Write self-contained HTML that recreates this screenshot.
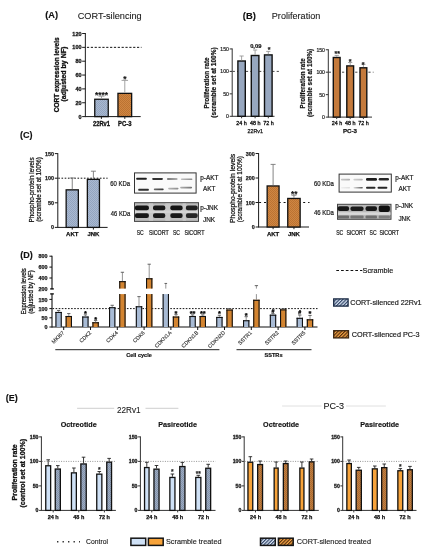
<!DOCTYPE html><html><head><meta charset="utf-8"><title>Figure</title><style>html,body{margin:0;padding:0;background:#fff;}svg{display:block;}</style></head><body>
<svg width="426" height="550" viewBox="0 0 426 550" font-family='"Liberation Sans", Arial, Helvetica, sans-serif'>
<defs><pattern id="hb" width="2" height="2" patternUnits="userSpaceOnUse"><rect width="2" height="2" fill="#a9b9d1"/><rect width="1" height="1" fill="#93a4bf"/><rect x="1" y="1" width="1" height="1" fill="#93a4bf"/></pattern><pattern id="ho" width="2" height="2" patternUnits="userSpaceOnUse"><rect width="2" height="2" fill="#d08642"/><rect width="1" height="1" fill="#bb7333"/><rect x="1" y="1" width="1" height="1" fill="#bb7333"/></pattern><pattern id="heb" width="2" height="2" patternUnits="userSpaceOnUse"><rect width="2" height="2" fill="#9dabc1"/><rect width="1" height="1" fill="#8393ab"/><rect x="1" y="1" width="1" height="1" fill="#8393ab"/></pattern><pattern id="heo" width="2" height="2" patternUnits="userSpaceOnUse"><rect width="2" height="2" fill="#c07e40"/><rect width="1" height="1" fill="#aa6b32"/><rect x="1" y="1" width="1" height="1" fill="#aa6b32"/></pattern><pattern id="lgb" width="2.4" height="2.4" patternUnits="userSpaceOnUse" patternTransform="rotate(45)"><rect width="2.4" height="2.4" fill="#dce8f6"/><rect width="1.2" height="2.4" fill="#34476a"/></pattern><pattern id="lgo" width="2.4" height="2.4" patternUnits="userSpaceOnUse" patternTransform="rotate(45)"><rect width="2.4" height="2.4" fill="#f8a848"/><rect width="1.2" height="2.4" fill="#5a300c"/></pattern></defs>
<text x="45.2" y="18.2" font-size="9.2" font-weight="bold" text-anchor="start" fill="#111" stroke="#111" stroke-width="0.15">(A)</text>
<text x="77.7" y="18.7" font-size="9.7" text-anchor="start" fill="#1a1a1a" textLength="64" lengthAdjust="spacingAndGlyphs" stroke="#1a1a1a" stroke-width="0.1">CORT-silencing</text>
<line x1="85.35" y1="33" x2="85.35" y2="117.1" stroke="#1a1a1a" stroke-width="1"/>
<line x1="82.15" y1="33.5" x2="85.35" y2="33.5" stroke="#1a1a1a" stroke-width="1"/>
<text x="81.55" y="35.59" font-size="5.5" font-weight="bold" text-anchor="end" fill="#1a1a1a" stroke="#1a1a1a" stroke-width="0.3">120</text>
<line x1="82.15" y1="47.35" x2="85.35" y2="47.35" stroke="#1a1a1a" stroke-width="1"/>
<text x="81.55" y="49.44" font-size="5.5" font-weight="bold" text-anchor="end" fill="#1a1a1a" stroke="#1a1a1a" stroke-width="0.3">100</text>
<line x1="82.15" y1="61.2" x2="85.35" y2="61.2" stroke="#1a1a1a" stroke-width="1"/>
<text x="81.55" y="63.29" font-size="5.5" font-weight="bold" text-anchor="end" fill="#1a1a1a" stroke="#1a1a1a" stroke-width="0.3">80</text>
<line x1="82.15" y1="75.05" x2="85.35" y2="75.05" stroke="#1a1a1a" stroke-width="1"/>
<text x="81.55" y="77.14" font-size="5.5" font-weight="bold" text-anchor="end" fill="#1a1a1a" stroke="#1a1a1a" stroke-width="0.3">60</text>
<line x1="82.15" y1="88.9" x2="85.35" y2="88.9" stroke="#1a1a1a" stroke-width="1"/>
<text x="81.55" y="90.99" font-size="5.5" font-weight="bold" text-anchor="end" fill="#1a1a1a" stroke="#1a1a1a" stroke-width="0.3">40</text>
<line x1="82.15" y1="102.75" x2="85.35" y2="102.75" stroke="#1a1a1a" stroke-width="1"/>
<text x="81.55" y="104.84" font-size="5.5" font-weight="bold" text-anchor="end" fill="#1a1a1a" stroke="#1a1a1a" stroke-width="0.3">20</text>
<line x1="82.15" y1="116.6" x2="85.35" y2="116.6" stroke="#1a1a1a" stroke-width="1"/>
<text x="81.55" y="118.69" font-size="5.5" font-weight="bold" text-anchor="end" fill="#1a1a1a" stroke="#1a1a1a" stroke-width="0.3">0</text>
<line x1="85.35" y1="116.6" x2="140.7" y2="116.6" stroke="#1a1a1a" stroke-width="1"/>
<line x1="86.95" y1="47.35" x2="141.5" y2="47.35" stroke="#111" stroke-width="1" stroke-dasharray="2.2 1.65"/>
<text x="59.2" y="74.8" font-size="6.6" font-weight="bold" text-anchor="middle" fill="#111" transform="rotate(-90 59.2 74.8)" textLength="75" lengthAdjust="spacingAndGlyphs" stroke="#111" stroke-width="0.3">CORT expression levels</text>
<text x="66.2" y="74.1" font-size="6.6" font-weight="bold" text-anchor="middle" fill="#111" transform="rotate(-90 66.2 74.1)" textLength="55" lengthAdjust="spacingAndGlyphs" stroke="#111" stroke-width="0.3">(adjusted by NF)</text>
<rect x="94.75" y="99.25" width="13.5" height="17.35" fill="url(#hb)" stroke="#111" stroke-width="1.3"/>
<rect x="117.95" y="93.35" width="13.7" height="23.25" fill="url(#ho)" stroke="#111" stroke-width="1.3"/>
<line x1="101.5" y1="98.6" x2="101.5" y2="96.2" stroke="#999" stroke-width="0.9"/>
<line x1="98.5" y1="96.2" x2="104.5" y2="96.2" stroke="#999" stroke-width="0.9"/>
<line x1="124.8" y1="92.7" x2="124.8" y2="80.4" stroke="#999" stroke-width="0.9"/>
<line x1="121.55" y1="80.4" x2="128.05" y2="80.4" stroke="#999" stroke-width="0.9"/>
<line x1="101.4" y1="116.6" x2="101.4" y2="118.9" stroke="#1a1a1a" stroke-width="1"/>
<line x1="124.8" y1="116.6" x2="124.8" y2="118.9" stroke="#1a1a1a" stroke-width="1"/>
<text x="101.5" y="97.68" font-size="8.4" font-weight="bold" text-anchor="middle" fill="#111" stroke="#111" stroke-width="0.15">****</text>
<text x="124.8" y="81.68" font-size="8.4" font-weight="bold" text-anchor="middle" fill="#111" stroke="#111" stroke-width="0.15">*</text>
<text x="101.5" y="126.2" font-size="6.3" font-weight="bold" text-anchor="middle" fill="#111" textLength="17" lengthAdjust="spacingAndGlyphs" stroke="#111" stroke-width="0.3">22Rv1</text>
<text x="124.8" y="126.2" font-size="6.3" font-weight="bold" text-anchor="middle" fill="#111" textLength="13.4" lengthAdjust="spacingAndGlyphs" stroke="#111" stroke-width="0.3">PC-3</text>
<text x="242.8" y="18.5" font-size="9.4" font-weight="bold" text-anchor="start" fill="#111" stroke="#111" stroke-width="0.15">(B)</text>
<text x="271.8" y="18.8" font-size="9.7" text-anchor="start" fill="#1a1a1a" textLength="48.5" lengthAdjust="spacingAndGlyphs" stroke="#1a1a1a" stroke-width="0.1">Proliferation</text>
<line x1="232.2" y1="48.45" x2="232.2" y2="116.8" stroke="#333" stroke-width="1"/>
<line x1="229.7" y1="48.95" x2="232.2" y2="48.95" stroke="#333" stroke-width="1"/>
<text x="228.8" y="50.89" font-size="5.1" text-anchor="end" fill="#222" stroke="#222" stroke-width="0.2">150</text>
<line x1="229.7" y1="71.4" x2="232.2" y2="71.4" stroke="#333" stroke-width="1"/>
<text x="228.8" y="73.34" font-size="5.1" text-anchor="end" fill="#222" stroke="#222" stroke-width="0.2">100</text>
<line x1="229.7" y1="93.85" x2="232.2" y2="93.85" stroke="#333" stroke-width="1"/>
<text x="228.8" y="95.79" font-size="5.1" text-anchor="end" fill="#222" stroke="#222" stroke-width="0.2">50</text>
<line x1="229.7" y1="116.3" x2="232.2" y2="116.3" stroke="#333" stroke-width="1"/>
<text x="228.8" y="118.24" font-size="5.1" text-anchor="end" fill="#222" stroke="#222" stroke-width="0.2">0</text>
<line x1="232.7" y1="71.4" x2="279" y2="71.4" stroke="#333" stroke-width="0.9" stroke-dasharray="2.2 2.2"/>
<line x1="232.2" y1="116.3" x2="274.5" y2="116.3" stroke="#333" stroke-width="1"/>
<rect x="237.9" y="61" width="7.4" height="55.3" fill="#97a7bf" stroke="#111" stroke-width="1.4"/>
<line x1="241.6" y1="60.3" x2="241.6" y2="56" stroke="#999" stroke-width="0.9"/>
<line x1="239.5" y1="56" x2="243.7" y2="56" stroke="#999" stroke-width="0.9"/>
<line x1="241.6" y1="116.3" x2="241.6" y2="118.3" stroke="#333" stroke-width="1"/>
<rect x="251.3" y="55.5" width="7.6" height="60.8" fill="#97a7bf" stroke="#111" stroke-width="1.4"/>
<line x1="255.1" y1="54.8" x2="255.1" y2="50" stroke="#999" stroke-width="0.9"/>
<line x1="253" y1="50" x2="257.2" y2="50" stroke="#999" stroke-width="0.9"/>
<line x1="255.1" y1="116.3" x2="255.1" y2="118.3" stroke="#333" stroke-width="1"/>
<rect x="264.5" y="54.9" width="7.6" height="61.4" fill="#97a7bf" stroke="#111" stroke-width="1.4"/>
<line x1="268.3" y1="54.2" x2="268.3" y2="51.4" stroke="#999" stroke-width="0.9"/>
<line x1="266.2" y1="51.4" x2="270.4" y2="51.4" stroke="#999" stroke-width="0.9"/>
<line x1="268.3" y1="116.3" x2="268.3" y2="118.3" stroke="#333" stroke-width="1"/>
<text x="255.8" y="47.9" font-size="5.8" font-weight="bold" text-anchor="middle" fill="#111" stroke="#111" stroke-width="0.2">0,09</text>
<text x="269" y="52.17" font-size="7" font-weight="bold" text-anchor="middle" fill="#111" stroke="#111" stroke-width="0.15">*</text>
<text x="241.4" y="124.6" font-size="5.4" text-anchor="middle" fill="#111" stroke="#111" stroke-width="0.3">24 h</text>
<text x="255.2" y="124.6" font-size="5.4" text-anchor="middle" fill="#111" stroke="#111" stroke-width="0.3">48 h</text>
<text x="268.4" y="124.6" font-size="5.4" text-anchor="middle" fill="#111" stroke="#111" stroke-width="0.3">72 h</text>
<text x="255.2" y="133.4" font-size="6.1" text-anchor="middle" fill="#111" textLength="15.4" lengthAdjust="spacingAndGlyphs" stroke="#111" stroke-width="0.25">22Rv1</text>
<text x="208.6" y="82.9" font-size="6.6" font-weight="bold" text-anchor="middle" fill="#111" transform="rotate(-90 208.6 82.9)" textLength="51" lengthAdjust="spacingAndGlyphs" stroke="#111" stroke-width="0.2">Proliferation rate</text>
<text x="215.6" y="82.5" font-size="6.6" font-weight="bold" text-anchor="middle" fill="#111" transform="rotate(-90 215.6 82.5)" textLength="70.3" lengthAdjust="spacingAndGlyphs" stroke="#111" stroke-width="0.2">(scramble set at 100%)</text>
<line x1="328.3" y1="49.25" x2="328.3" y2="117.6" stroke="#333" stroke-width="1"/>
<line x1="325.8" y1="49.75" x2="328.3" y2="49.75" stroke="#333" stroke-width="1"/>
<text x="324.9" y="51.69" font-size="5.1" text-anchor="end" fill="#222" stroke="#222" stroke-width="0.2">150</text>
<line x1="325.8" y1="72.2" x2="328.3" y2="72.2" stroke="#333" stroke-width="1"/>
<text x="324.9" y="74.14" font-size="5.1" text-anchor="end" fill="#222" stroke="#222" stroke-width="0.2">100</text>
<line x1="325.8" y1="94.65" x2="328.3" y2="94.65" stroke="#333" stroke-width="1"/>
<text x="324.9" y="96.59" font-size="5.1" text-anchor="end" fill="#222" stroke="#222" stroke-width="0.2">50</text>
<line x1="325.8" y1="117.1" x2="328.3" y2="117.1" stroke="#333" stroke-width="1"/>
<text x="324.9" y="119.04" font-size="5.1" text-anchor="end" fill="#222" stroke="#222" stroke-width="0.2">0</text>
<line x1="328.8" y1="72.2" x2="373.5" y2="72.2" stroke="#333" stroke-width="0.9" stroke-dasharray="2.2 2.2"/>
<line x1="328.3" y1="117.1" x2="372" y2="117.1" stroke="#333" stroke-width="1"/>
<rect x="333.3" y="57.5" width="6.8" height="59.6" fill="#c47a3c" stroke="#111" stroke-width="1.4"/>
<line x1="336.7" y1="56.8" x2="336.7" y2="55.4" stroke="#999" stroke-width="0.9"/>
<line x1="334.6" y1="55.4" x2="338.8" y2="55.4" stroke="#999" stroke-width="0.9"/>
<line x1="336.7" y1="117.1" x2="336.7" y2="119.1" stroke="#333" stroke-width="1"/>
<rect x="346.8" y="65.9" width="6.8" height="51.2" fill="#c47a3c" stroke="#111" stroke-width="1.4"/>
<line x1="350.2" y1="65.2" x2="350.2" y2="62.5" stroke="#999" stroke-width="0.9"/>
<line x1="348.1" y1="62.5" x2="352.3" y2="62.5" stroke="#999" stroke-width="0.9"/>
<line x1="350.2" y1="117.1" x2="350.2" y2="119.1" stroke="#333" stroke-width="1"/>
<rect x="360" y="67.8" width="6.8" height="49.3" fill="#c47a3c" stroke="#111" stroke-width="1.4"/>
<line x1="363.4" y1="67.1" x2="363.4" y2="64.3" stroke="#999" stroke-width="0.9"/>
<line x1="361.3" y1="64.3" x2="365.5" y2="64.3" stroke="#999" stroke-width="0.9"/>
<line x1="363.4" y1="117.1" x2="363.4" y2="119.1" stroke="#333" stroke-width="1"/>
<text x="337.3" y="56.17" font-size="7" font-weight="bold" text-anchor="middle" fill="#111" stroke="#111" stroke-width="0.15">**</text>
<text x="350.2" y="64.17" font-size="7" font-weight="bold" text-anchor="middle" fill="#111" stroke="#111" stroke-width="0.15">*</text>
<text x="363.1" y="66.77" font-size="7" font-weight="bold" text-anchor="middle" fill="#111" stroke="#111" stroke-width="0.15">*</text>
<text x="337" y="124.6" font-size="5.4" text-anchor="middle" fill="#111" stroke="#111" stroke-width="0.3">24 h</text>
<text x="350.3" y="124.6" font-size="5.4" text-anchor="middle" fill="#111" stroke="#111" stroke-width="0.3">48 h</text>
<text x="363.4" y="124.6" font-size="5.4" text-anchor="middle" fill="#111" stroke="#111" stroke-width="0.3">72 h</text>
<text x="349.9" y="133" font-size="6.1" font-weight="bold" text-anchor="middle" fill="#111" stroke="#111" stroke-width="0.25">PC-3</text>
<text x="304.8" y="83.3" font-size="6.6" font-weight="bold" text-anchor="middle" fill="#111" transform="rotate(-90 304.8 83.3)" textLength="50.3" lengthAdjust="spacingAndGlyphs" stroke="#111" stroke-width="0.2">Proliferation rate</text>
<text x="311.8" y="82.9" font-size="6.6" font-weight="bold" text-anchor="middle" fill="#111" transform="rotate(-90 311.8 82.9)" textLength="68.2" lengthAdjust="spacingAndGlyphs" stroke="#111" stroke-width="0.2">(scramble set at 100%)</text>
<text x="19.9" y="137.9" font-size="9" font-weight="bold" text-anchor="start" fill="#111" stroke="#111" stroke-width="0.15">(C)</text>
<line x1="57.8" y1="153.1" x2="57.8" y2="227.9" stroke="#1a1a1a" stroke-width="1"/>
<line x1="54.8" y1="153.6" x2="57.8" y2="153.6" stroke="#1a1a1a" stroke-width="1"/>
<text x="53.9" y="155.65" font-size="5.4" font-weight="bold" text-anchor="end" fill="#222" stroke="#222" stroke-width="0.25">150</text>
<line x1="54.8" y1="178.2" x2="57.8" y2="178.2" stroke="#1a1a1a" stroke-width="1"/>
<text x="53.9" y="180.25" font-size="5.4" font-weight="bold" text-anchor="end" fill="#222" stroke="#222" stroke-width="0.25">100</text>
<line x1="54.8" y1="202.8" x2="57.8" y2="202.8" stroke="#1a1a1a" stroke-width="1"/>
<text x="53.9" y="204.85" font-size="5.4" font-weight="bold" text-anchor="end" fill="#222" stroke="#222" stroke-width="0.25">50</text>
<line x1="54.8" y1="227.4" x2="57.8" y2="227.4" stroke="#1a1a1a" stroke-width="1"/>
<text x="53.9" y="229.45" font-size="5.4" font-weight="bold" text-anchor="end" fill="#222" stroke="#222" stroke-width="0.25">0</text>
<line x1="58.3" y1="178.2" x2="107.6" y2="178.2" stroke="#111" stroke-width="1" stroke-dasharray="1.6 1.6"/>
<line x1="57.8" y1="227.4" x2="107.6" y2="227.4" stroke="#1a1a1a" stroke-width="1"/>
<rect x="66.15" y="189.85" width="12.2" height="37.55" fill="url(#hb)" stroke="#111" stroke-width="1.3"/>
<line x1="72.25" y1="189.2" x2="72.25" y2="178" stroke="#777" stroke-width="0.9"/>
<line x1="69.75" y1="178" x2="74.75" y2="178" stroke="#777" stroke-width="0.9"/>
<line x1="72.25" y1="227.4" x2="72.25" y2="229.6" stroke="#1a1a1a" stroke-width="1"/>
<rect x="87.35" y="179.35" width="12.1" height="48.05" fill="url(#hb)" stroke="#111" stroke-width="1.3"/>
<line x1="93.4" y1="178.7" x2="93.4" y2="171.2" stroke="#777" stroke-width="0.9"/>
<line x1="90.9" y1="171.2" x2="95.9" y2="171.2" stroke="#777" stroke-width="0.9"/>
<line x1="93.4" y1="227.4" x2="93.4" y2="229.6" stroke="#1a1a1a" stroke-width="1"/>
<text x="72.25" y="236.4" font-size="6" font-weight="bold" text-anchor="middle" fill="#111" stroke="#111" stroke-width="0.25">AKT</text>
<text x="93.4" y="236.4" font-size="6" font-weight="bold" text-anchor="middle" fill="#111" stroke="#111" stroke-width="0.25">JNK</text>
<text x="34.2" y="189.9" font-size="6.3" text-anchor="middle" fill="#111" transform="rotate(-90 34.2 189.9)" textLength="65.3" lengthAdjust="spacingAndGlyphs" stroke="#111" stroke-width="0.22">Phospho-protein levels</text>
<text x="41.3" y="189.5" font-size="6.3" text-anchor="middle" fill="#111" transform="rotate(-90 41.3 189.5)" textLength="64.5" lengthAdjust="spacingAndGlyphs" stroke="#111" stroke-width="0.22">(scramble set at 100%)</text>
<line x1="258.6" y1="153" x2="258.6" y2="227.5" stroke="#1a1a1a" stroke-width="1"/>
<line x1="255.6" y1="153.5" x2="258.6" y2="153.5" stroke="#1a1a1a" stroke-width="1"/>
<text x="254.7" y="155.55" font-size="5.4" font-weight="bold" text-anchor="end" fill="#222" stroke="#222" stroke-width="0.25">300</text>
<line x1="255.6" y1="178" x2="258.6" y2="178" stroke="#1a1a1a" stroke-width="1"/>
<text x="254.7" y="180.05" font-size="5.4" font-weight="bold" text-anchor="end" fill="#222" stroke="#222" stroke-width="0.25">200</text>
<line x1="255.6" y1="202.5" x2="258.6" y2="202.5" stroke="#1a1a1a" stroke-width="1"/>
<text x="254.7" y="204.55" font-size="5.4" font-weight="bold" text-anchor="end" fill="#222" stroke="#222" stroke-width="0.25">100</text>
<line x1="255.6" y1="227" x2="258.6" y2="227" stroke="#1a1a1a" stroke-width="1"/>
<text x="254.7" y="229.05" font-size="5.4" font-weight="bold" text-anchor="end" fill="#222" stroke="#222" stroke-width="0.25">0</text>
<line x1="259.1" y1="202.5" x2="309.5" y2="202.5" stroke="#111" stroke-width="1" stroke-dasharray="2 2.9"/>
<line x1="258.6" y1="227" x2="309" y2="227" stroke="#1a1a1a" stroke-width="1"/>
<rect x="267.15" y="185.95" width="11.9" height="41.05" fill="url(#ho)" stroke="#111" stroke-width="1.3"/>
<line x1="273.1" y1="185.3" x2="273.1" y2="164.4" stroke="#777" stroke-width="0.9"/>
<line x1="270.6" y1="164.4" x2="275.6" y2="164.4" stroke="#777" stroke-width="0.9"/>
<line x1="273.1" y1="227" x2="273.1" y2="229.2" stroke="#1a1a1a" stroke-width="1"/>
<rect x="287.75" y="198.45" width="12.4" height="28.55" fill="url(#ho)" stroke="#111" stroke-width="1.3"/>
<line x1="293.95" y1="197.8" x2="293.95" y2="195.2" stroke="#777" stroke-width="0.9"/>
<line x1="291.45" y1="195.2" x2="296.45" y2="195.2" stroke="#777" stroke-width="0.9"/>
<line x1="293.95" y1="227" x2="293.95" y2="229.2" stroke="#1a1a1a" stroke-width="1"/>
<text x="294.2" y="196.68" font-size="8.2" font-weight="bold" text-anchor="middle" fill="#111" stroke="#111" stroke-width="0.15">**</text>
<text x="273.1" y="236.4" font-size="6" font-weight="bold" text-anchor="middle" fill="#111" stroke="#111" stroke-width="0.25">AKT</text>
<text x="293.95" y="236.4" font-size="6" font-weight="bold" text-anchor="middle" fill="#111" stroke="#111" stroke-width="0.25">JNK</text>
<text x="234.8" y="188.4" font-size="6.3" text-anchor="middle" fill="#111" transform="rotate(-90 234.8 188.4)" textLength="69.2" lengthAdjust="spacingAndGlyphs" stroke="#111" stroke-width="0.22">Phospho-protein levels</text>
<text x="241.9" y="189.1" font-size="6.3" text-anchor="middle" fill="#111" transform="rotate(-90 241.9 189.1)" textLength="66.1" lengthAdjust="spacingAndGlyphs" stroke="#111" stroke-width="0.22">(scramble set at 100%)</text>
<rect x="134.5" y="172.9" width="61.6" height="20.2" fill="#fafafa" stroke="#333" stroke-width="1"/>
<rect x="136.2" y="177.7" width="10.6" height="2" rx="0.8" fill="#1e1e1e" opacity="1"/>
<rect x="152.2" y="177.9" width="10.7" height="2" rx="0.8" fill="#333333" opacity="1"/>
<linearGradient id="g1" x1="0" x2="1" y1="0" y2="0"><stop offset="0" stop-color="#777777"/><stop offset="1" stop-color="#b0b0b0"/></linearGradient>
<rect x="167" y="178.1" width="10.6" height="1.8" rx="0.9" fill="url(#g1)" opacity="1"/>
<linearGradient id="g2" x1="0" x2="1" y1="0" y2="0"><stop offset="0" stop-color="#c0c0c0"/><stop offset="1" stop-color="#8a8a8a"/></linearGradient>
<rect x="180.9" y="178.4" width="11.5" height="1.6" rx="0.8" fill="url(#g2)" opacity="1"/>
<rect x="138.2" y="188.85" width="10.7" height="1.9" rx="0.8" fill="#2e2e2e" opacity="1"/>
<linearGradient id="g3" x1="0" x2="1" y1="0" y2="0"><stop offset="0" stop-color="#6a6a6a"/><stop offset="1" stop-color="#3a3a3a"/></linearGradient>
<rect x="153.8" y="188.4" width="9.9" height="1.8" rx="0.9" fill="url(#g3)" opacity="1"/>
<linearGradient id="g4" x1="0" x2="1" y1="0" y2="0"><stop offset="0" stop-color="#b8b8b8"/><stop offset="1" stop-color="#8a8a8a"/></linearGradient>
<rect x="168.1" y="187.8" width="10.4" height="1.6" rx="0.8" fill="url(#g4)" opacity="1"/>
<linearGradient id="g5" x1="0" x2="1" y1="0" y2="0"><stop offset="0" stop-color="#b0b0b0"/><stop offset="1" stop-color="#707070"/></linearGradient>
<rect x="180.1" y="186.8" width="12" height="1.6" rx="0.8" fill="url(#g5)" opacity="1"/>
<rect x="134.5" y="202.7" width="64" height="18.7" fill="#bdbdbd" stroke="#444" stroke-width="1"/>
<rect x="135" y="210.6" width="63" height="2.4" fill="#d6d6d6"/>
<rect x="148.9" y="203.2" width="4.1" height="17.7" fill="#cfcfcf" opacity="0.6"/>
<rect x="165.3" y="203.2" width="5" height="17.7" fill="#cfcfcf" opacity="0.6"/>
<rect x="182.6" y="203.2" width="3.3" height="17.7" fill="#cfcfcf" opacity="0.6"/>
<rect x="134.9" y="205.6" width="14" height="4.6" rx="2" fill="#151515" opacity="1"/>
<rect x="153" y="205.6" width="12.3" height="4.6" rx="2" fill="#1a1a1a" opacity="1"/>
<rect x="170.3" y="205.6" width="12.3" height="4.6" rx="2" fill="#151515" opacity="1"/>
<rect x="185.9" y="205.6" width="11.8" height="4.6" rx="2" fill="#222" opacity="1"/>
<rect x="134.9" y="213.3" width="14" height="4.6" rx="2" fill="#171717" opacity="1"/>
<rect x="153" y="213.3" width="12.3" height="4.6" rx="2" fill="#1a1a1a" opacity="1"/>
<rect x="170.3" y="213.3" width="12.3" height="4.6" rx="2" fill="#181818" opacity="1"/>
<rect x="185.9" y="213.3" width="11.8" height="4.6" rx="2" fill="#262626" opacity="1"/>
<text x="110.2" y="186" font-size="7" text-anchor="start" fill="#1a1a1a" textLength="19.8" lengthAdjust="spacingAndGlyphs" stroke="#1a1a1a" stroke-width="0.22">60 KDa</text>
<text x="110.8" y="215.6" font-size="7" text-anchor="start" fill="#1a1a1a" textLength="19.4" lengthAdjust="spacingAndGlyphs" stroke="#1a1a1a" stroke-width="0.22">46 KDa</text>
<text x="200.2" y="180" font-size="7" text-anchor="start" fill="#1a1a1a" textLength="18.14" lengthAdjust="spacingAndGlyphs" stroke="#1a1a1a" stroke-width="0.22">p-AKT</text>
<text x="203" y="191.2" font-size="7" text-anchor="start" fill="#1a1a1a" textLength="12.45" lengthAdjust="spacingAndGlyphs" stroke="#1a1a1a" stroke-width="0.22">AKT</text>
<text x="200.2" y="210.4" font-size="7" text-anchor="start" fill="#1a1a1a" textLength="17.78" lengthAdjust="spacingAndGlyphs" stroke="#1a1a1a" stroke-width="0.22">p-JNK</text>
<text x="203" y="222.2" font-size="7" text-anchor="start" fill="#1a1a1a" textLength="12.09" lengthAdjust="spacingAndGlyphs" stroke="#1a1a1a" stroke-width="0.22">JNK</text>
<text x="140.2" y="234.5" font-size="6.4" text-anchor="middle" fill="#1a1a1a" textLength="7" lengthAdjust="spacingAndGlyphs" stroke="#1a1a1a" stroke-width="0.22">SC</text>
<text x="158.9" y="234.5" font-size="6.4" text-anchor="middle" fill="#1a1a1a" textLength="19.8" lengthAdjust="spacingAndGlyphs" stroke="#1a1a1a" stroke-width="0.22">SiCORT</text>
<text x="176.5" y="234.5" font-size="6.4" text-anchor="middle" fill="#1a1a1a" textLength="7" lengthAdjust="spacingAndGlyphs" stroke="#1a1a1a" stroke-width="0.22">SC</text>
<text x="194.5" y="234.5" font-size="6.4" text-anchor="middle" fill="#1a1a1a" textLength="19.8" lengthAdjust="spacingAndGlyphs" stroke="#1a1a1a" stroke-width="0.22">SiCORT</text>
<rect x="339.1" y="174.1" width="52.2" height="18" fill="#fafafa" stroke="#333" stroke-width="1"/>
<linearGradient id="g6" x1="0" x2="1" y1="0" y2="0"><stop offset="0" stop-color="#c8c8c8"/><stop offset="1" stop-color="#b0b0b0"/></linearGradient>
<rect x="340.9" y="178.7" width="9.2" height="1.8" rx="0.9" fill="url(#g6)" opacity="1"/>
<linearGradient id="g7" x1="0" x2="1" y1="0" y2="0"><stop offset="0" stop-color="#d0d0d0"/><stop offset="1" stop-color="#b4b4b4"/></linearGradient>
<rect x="353.4" y="178.7" width="9.4" height="1.8" rx="0.9" fill="url(#g7)" opacity="1"/>
<rect x="366" y="178.1" width="11" height="2.6" rx="1.2" fill="#1c1c1c" opacity="1"/>
<rect x="378.7" y="178" width="10.3" height="2.4" rx="1.2" fill="#262626" opacity="1"/>
<linearGradient id="g8" x1="0" x2="1" y1="0" y2="0"><stop offset="0" stop-color="#f0f0f0"/><stop offset="1" stop-color="#dedede"/></linearGradient>
<rect x="341" y="187.1" width="9" height="1.4" rx="0.7" fill="url(#g8)" opacity="1"/>
<linearGradient id="g9" x1="0" x2="1" y1="0" y2="0"><stop offset="0" stop-color="#e0e0e0"/><stop offset="1" stop-color="#555555"/></linearGradient>
<rect x="353.4" y="187" width="9.4" height="1.6" rx="0.8" fill="url(#g9)" opacity="1"/>
<rect x="366" y="186.7" width="9.5" height="2" rx="1" fill="#2a2a2a" opacity="1"/>
<rect x="377.5" y="186.7" width="9.9" height="2" rx="1" fill="#262626" opacity="1"/>
<rect x="337.5" y="204.3" width="53.5" height="15" fill="#b8b8b8" stroke="#444" stroke-width="1"/>
<rect x="338" y="212.3" width="52.5" height="2.6" fill="#d8d8d8"/>
<rect x="337.6" y="206.3" width="11.5" height="4.8" rx="2" fill="#181818" opacity="1"/>
<rect x="350.4" y="206.4" width="13.2" height="4.6" rx="2" fill="#1c1c1c" opacity="1"/>
<rect x="365.5" y="206.3" width="11.5" height="4.8" rx="2" fill="#181818" opacity="1"/>
<rect x="378.7" y="205.5" width="11.2" height="6.4" rx="2" fill="#111" opacity="1"/>
<rect x="337.6" y="215.4" width="11.5" height="3" rx="1" fill="#6c6c6c" opacity="1"/>
<rect x="350.4" y="215.4" width="13.2" height="3" rx="1" fill="#747474" opacity="1"/>
<rect x="365.5" y="215.4" width="11.5" height="3" rx="1" fill="#6e6e6e" opacity="1"/>
<rect x="378.7" y="215.4" width="11.2" height="3" rx="1" fill="#7c7c7c" opacity="1"/>
<text x="313.9" y="186.4" font-size="7" text-anchor="start" fill="#1a1a1a" textLength="20" lengthAdjust="spacingAndGlyphs" stroke="#1a1a1a" stroke-width="0.22">60 KDa</text>
<text x="313.9" y="215.2" font-size="7" text-anchor="start" fill="#1a1a1a" textLength="20" lengthAdjust="spacingAndGlyphs" stroke="#1a1a1a" stroke-width="0.22">46 KDa</text>
<text x="395.3" y="180" font-size="7" text-anchor="start" fill="#1a1a1a" textLength="18.14" lengthAdjust="spacingAndGlyphs" stroke="#1a1a1a" stroke-width="0.22">p-AKT</text>
<text x="398.4" y="190.8" font-size="7" text-anchor="start" fill="#1a1a1a" textLength="12.45" lengthAdjust="spacingAndGlyphs" stroke="#1a1a1a" stroke-width="0.22">AKT</text>
<text x="395.3" y="208.4" font-size="7" text-anchor="start" fill="#1a1a1a" textLength="17.78" lengthAdjust="spacingAndGlyphs" stroke="#1a1a1a" stroke-width="0.22">p-JNK</text>
<text x="398.4" y="221" font-size="7" text-anchor="start" fill="#1a1a1a" textLength="12.09" lengthAdjust="spacingAndGlyphs" stroke="#1a1a1a" stroke-width="0.22">JNK</text>
<text x="339.65" y="234.5" font-size="6.4" text-anchor="middle" fill="#1a1a1a" textLength="7" lengthAdjust="spacingAndGlyphs" stroke="#1a1a1a" stroke-width="0.22">SC</text>
<text x="356.3" y="234.5" font-size="6.4" text-anchor="middle" fill="#1a1a1a" textLength="19.4" lengthAdjust="spacingAndGlyphs" stroke="#1a1a1a" stroke-width="0.22">SiCORT</text>
<text x="373.1" y="234.5" font-size="6.4" text-anchor="middle" fill="#1a1a1a" textLength="7" lengthAdjust="spacingAndGlyphs" stroke="#1a1a1a" stroke-width="0.22">SC</text>
<text x="389.2" y="234.5" font-size="6.4" text-anchor="middle" fill="#1a1a1a" textLength="19.4" lengthAdjust="spacingAndGlyphs" stroke="#1a1a1a" stroke-width="0.22">SiCORT</text>
<text x="20.3" y="257.5" font-size="9" font-weight="bold" text-anchor="start" fill="#111" stroke="#111" stroke-width="0.15">(D)</text>
<line x1="52" y1="255.7" x2="52" y2="288.9" stroke="#111" stroke-width="1.1"/>
<line x1="52" y1="293.9" x2="52" y2="327.5" stroke="#111" stroke-width="1.1"/>
<line x1="50.2" y1="288.9" x2="53.8" y2="288.9" stroke="#111" stroke-width="1.4"/>
<line x1="50.2" y1="293.9" x2="53.8" y2="293.9" stroke="#111" stroke-width="1.4"/>
<line x1="49.4" y1="256.2" x2="52" y2="256.2" stroke="#111" stroke-width="1"/>
<text x="47.4" y="258.3" font-size="5.4" font-weight="bold" text-anchor="end" fill="#1a1a1a" stroke="#1a1a1a" stroke-width="0.25">800</text>
<line x1="49.4" y1="267.1" x2="52" y2="267.1" stroke="#111" stroke-width="1"/>
<text x="47.4" y="269.2" font-size="5.4" font-weight="bold" text-anchor="end" fill="#1a1a1a" stroke="#1a1a1a" stroke-width="0.25">600</text>
<line x1="49.4" y1="278" x2="52" y2="278" stroke="#111" stroke-width="1"/>
<text x="47.4" y="280.1" font-size="5.4" font-weight="bold" text-anchor="end" fill="#1a1a1a" stroke="#1a1a1a" stroke-width="0.25">400</text>
<text x="47.4" y="291" font-size="5.4" font-weight="bold" text-anchor="end" fill="#1a1a1a" stroke="#1a1a1a" stroke-width="0.25">200</text>
<line x1="49.4" y1="299.4" x2="52" y2="299.4" stroke="#111" stroke-width="1"/>
<text x="47.4" y="301.5" font-size="5.4" font-weight="bold" text-anchor="end" fill="#1a1a1a" stroke="#1a1a1a" stroke-width="0.25">150</text>
<line x1="49.4" y1="308.6" x2="52" y2="308.6" stroke="#111" stroke-width="1"/>
<text x="47.4" y="310.7" font-size="5.4" font-weight="bold" text-anchor="end" fill="#1a1a1a" stroke="#1a1a1a" stroke-width="0.25">100</text>
<line x1="49.4" y1="317.8" x2="52" y2="317.8" stroke="#111" stroke-width="1"/>
<text x="47.4" y="319.9" font-size="5.4" font-weight="bold" text-anchor="end" fill="#1a1a1a" stroke="#1a1a1a" stroke-width="0.25">50</text>
<line x1="49.4" y1="327" x2="52" y2="327" stroke="#111" stroke-width="1"/>
<text x="47.4" y="329.1" font-size="5.4" font-weight="bold" text-anchor="end" fill="#1a1a1a" stroke="#1a1a1a" stroke-width="0.25">0</text>
<text x="26.2" y="291.4" font-size="6.6" text-anchor="middle" fill="#111" transform="rotate(-90 26.2 291.4)" textLength="46.3" lengthAdjust="spacingAndGlyphs" stroke="#111" stroke-width="0.25">Expression levels</text>
<text x="33.3" y="292" font-size="6.6" text-anchor="middle" fill="#111" transform="rotate(-90 33.3 292)" textLength="43.5" lengthAdjust="spacingAndGlyphs" stroke="#111" stroke-width="0.25">(a)justed by NF)</text>
<line x1="52.5" y1="308.6" x2="317.5" y2="308.6" stroke="#111" stroke-width="1" stroke-dasharray="1.6 1.5"/>
<line x1="52" y1="327" x2="317.5" y2="327" stroke="#111" stroke-width="1.1"/>
<rect x="55.4" y="311.91" width="6.4" height="15.09" fill="#a8bbd5"/>
<line x1="55.95" y1="311.91" x2="55.95" y2="327" stroke="#111" stroke-width="1.1"/>
<line x1="61.25" y1="311.91" x2="61.25" y2="327" stroke="#111" stroke-width="1.1"/>
<line x1="55.4" y1="312.46" x2="61.8" y2="312.46" stroke="#111" stroke-width="1.1"/>
<line x1="58.6" y1="311.91" x2="58.6" y2="310.44" stroke="#666" stroke-width="0.7"/>
<line x1="56.95" y1="310.44" x2="60.25" y2="310.44" stroke="#555" stroke-width="0.9"/>
<rect x="65.6" y="315.96" width="6.4" height="11.04" fill="#d38430"/>
<line x1="66.15" y1="315.96" x2="66.15" y2="327" stroke="#111" stroke-width="1.1"/>
<line x1="71.45" y1="315.96" x2="71.45" y2="327" stroke="#111" stroke-width="1.1"/>
<line x1="65.6" y1="316.51" x2="72" y2="316.51" stroke="#111" stroke-width="1.1"/>
<line x1="68.8" y1="315.96" x2="68.8" y2="313.57" stroke="#666" stroke-width="0.7"/>
<line x1="67.15" y1="313.57" x2="70.45" y2="313.57" stroke="#555" stroke-width="0.9"/>
<line x1="63.7" y1="327" x2="63.7" y2="330" stroke="#111" stroke-width="1"/>
<text x="64.7" y="333.1" font-size="5.3" text-anchor="end" fill="#333" transform="rotate(-45 64.7 333.1)" stroke="#333" stroke-width="0.15">MKI67</text>
<rect x="82.2" y="316.51" width="6.4" height="10.49" fill="#a8bbd5"/>
<line x1="82.75" y1="316.51" x2="82.75" y2="327" stroke="#111" stroke-width="1.1"/>
<line x1="88.05" y1="316.51" x2="88.05" y2="327" stroke="#111" stroke-width="1.1"/>
<line x1="82.2" y1="317.06" x2="88.6" y2="317.06" stroke="#111" stroke-width="1.1"/>
<line x1="85.4" y1="316.51" x2="85.4" y2="314.86" stroke="#666" stroke-width="0.7"/>
<line x1="83.75" y1="314.86" x2="87.05" y2="314.86" stroke="#555" stroke-width="0.9"/>
<text x="85.4" y="315.83" font-size="7.4" font-weight="bold" text-anchor="middle" fill="#000" stroke="#000" stroke-width="0.25">*</text>
<rect x="92.4" y="322.22" width="6.4" height="4.78" fill="#d38430"/>
<line x1="92.95" y1="322.22" x2="92.95" y2="327" stroke="#111" stroke-width="1.1"/>
<line x1="98.25" y1="322.22" x2="98.25" y2="327" stroke="#111" stroke-width="1.1"/>
<line x1="92.4" y1="322.77" x2="98.8" y2="322.77" stroke="#111" stroke-width="1.1"/>
<line x1="95.6" y1="322.22" x2="95.6" y2="320.56" stroke="#666" stroke-width="0.7"/>
<line x1="93.95" y1="320.56" x2="97.25" y2="320.56" stroke="#555" stroke-width="0.9"/>
<text x="95.6" y="321.53" font-size="7.4" font-weight="bold" text-anchor="middle" fill="#000" stroke="#000" stroke-width="0.25">*</text>
<line x1="90.5" y1="327" x2="90.5" y2="330" stroke="#111" stroke-width="1"/>
<text x="91.5" y="333.1" font-size="5.3" text-anchor="end" fill="#333" transform="rotate(-45 91.5 333.1)" stroke="#333" stroke-width="0.15">CDK2</text>
<rect x="109" y="307.13" width="6.4" height="19.87" fill="#a8bbd5"/>
<line x1="109.55" y1="307.13" x2="109.55" y2="327" stroke="#111" stroke-width="1.1"/>
<line x1="114.85" y1="307.13" x2="114.85" y2="327" stroke="#111" stroke-width="1.1"/>
<line x1="109" y1="307.68" x2="115.4" y2="307.68" stroke="#111" stroke-width="1.1"/>
<line x1="112.2" y1="307.13" x2="112.2" y2="305.29" stroke="#666" stroke-width="0.7"/>
<line x1="110.55" y1="305.29" x2="113.85" y2="305.29" stroke="#555" stroke-width="0.9"/>
<rect x="119.2" y="294.1" width="6.4" height="32.9" fill="#d38430"/>
<line x1="119.75" y1="294.1" x2="119.75" y2="327" stroke="#111" stroke-width="1.1"/>
<line x1="125.05" y1="294.1" x2="125.05" y2="327" stroke="#111" stroke-width="1.1"/>
<rect x="119.2" y="281.11" width="6.4" height="7.49" fill="#d38430"/>
<line x1="119.75" y1="281.11" x2="119.75" y2="288.6" stroke="#111" stroke-width="1.1"/>
<line x1="125.05" y1="281.11" x2="125.05" y2="288.6" stroke="#111" stroke-width="1.1"/>
<line x1="119.2" y1="281.66" x2="125.6" y2="281.66" stroke="#111" stroke-width="1.1"/>
<line x1="122.4" y1="281.11" x2="122.4" y2="272.28" stroke="#666" stroke-width="0.7"/>
<line x1="120.75" y1="272.28" x2="124.05" y2="272.28" stroke="#555" stroke-width="0.9"/>
<line x1="117.3" y1="327" x2="117.3" y2="330" stroke="#111" stroke-width="1"/>
<text x="118.3" y="333.1" font-size="5.3" text-anchor="end" fill="#333" transform="rotate(-45 118.3 333.1)" stroke="#333" stroke-width="0.15">CDK4</text>
<rect x="135.8" y="306.21" width="6.4" height="20.79" fill="#a8bbd5"/>
<line x1="136.35" y1="306.21" x2="136.35" y2="327" stroke="#111" stroke-width="1.1"/>
<line x1="141.65" y1="306.21" x2="141.65" y2="327" stroke="#111" stroke-width="1.1"/>
<line x1="135.8" y1="306.76" x2="142.2" y2="306.76" stroke="#111" stroke-width="1.1"/>
<line x1="139" y1="306.21" x2="139" y2="296.64" stroke="#666" stroke-width="0.7"/>
<line x1="137.35" y1="296.64" x2="140.65" y2="296.64" stroke="#555" stroke-width="0.9"/>
<rect x="146" y="294.1" width="6.4" height="32.9" fill="#d38430"/>
<line x1="146.55" y1="294.1" x2="146.55" y2="327" stroke="#111" stroke-width="1.1"/>
<line x1="151.85" y1="294.1" x2="151.85" y2="327" stroke="#111" stroke-width="1.1"/>
<rect x="146" y="278.22" width="6.4" height="10.38" fill="#d38430"/>
<line x1="146.55" y1="278.22" x2="146.55" y2="288.6" stroke="#111" stroke-width="1.1"/>
<line x1="151.85" y1="278.22" x2="151.85" y2="288.6" stroke="#111" stroke-width="1.1"/>
<line x1="146" y1="278.77" x2="152.4" y2="278.77" stroke="#111" stroke-width="1.1"/>
<line x1="149.2" y1="278.22" x2="149.2" y2="264.21" stroke="#666" stroke-width="0.7"/>
<line x1="147.55" y1="264.21" x2="150.85" y2="264.21" stroke="#555" stroke-width="0.9"/>
<line x1="144.1" y1="327" x2="144.1" y2="330" stroke="#111" stroke-width="1"/>
<text x="145.1" y="333.1" font-size="5.3" text-anchor="end" fill="#333" transform="rotate(-45 145.1 333.1)" stroke="#333" stroke-width="0.15">CDK6</text>
<rect x="162.6" y="294.1" width="6.4" height="32.9" fill="#a8bbd5"/>
<line x1="163.15" y1="294.1" x2="163.15" y2="327" stroke="#111" stroke-width="1.1"/>
<line x1="168.45" y1="294.1" x2="168.45" y2="327" stroke="#111" stroke-width="1.1"/>
<line x1="165.8" y1="288.6" x2="165.8" y2="283.45" stroke="#666" stroke-width="0.7"/>
<line x1="164.5" y1="283.45" x2="167.1" y2="283.45" stroke="#555" stroke-width="0.9"/>
<rect x="172.8" y="316.51" width="6.4" height="10.49" fill="#d38430"/>
<line x1="173.35" y1="316.51" x2="173.35" y2="327" stroke="#111" stroke-width="1.1"/>
<line x1="178.65" y1="316.51" x2="178.65" y2="327" stroke="#111" stroke-width="1.1"/>
<line x1="172.8" y1="317.06" x2="179.2" y2="317.06" stroke="#111" stroke-width="1.1"/>
<line x1="176" y1="316.51" x2="176" y2="314.67" stroke="#666" stroke-width="0.7"/>
<line x1="174.35" y1="314.67" x2="177.65" y2="314.67" stroke="#555" stroke-width="0.9"/>
<text x="176" y="315.65" font-size="7.4" font-weight="bold" text-anchor="middle" fill="#000" stroke="#000" stroke-width="0.25">*</text>
<line x1="170.9" y1="327" x2="170.9" y2="330" stroke="#111" stroke-width="1"/>
<text x="171.9" y="333.1" font-size="5.3" text-anchor="end" fill="#333" transform="rotate(-45 171.9 333.1)" stroke="#333" stroke-width="0.15">CDKN1A</text>
<rect x="189.4" y="315.96" width="6.4" height="11.04" fill="#a8bbd5"/>
<line x1="189.95" y1="315.96" x2="189.95" y2="327" stroke="#111" stroke-width="1.1"/>
<line x1="195.25" y1="315.96" x2="195.25" y2="327" stroke="#111" stroke-width="1.1"/>
<line x1="189.4" y1="316.51" x2="195.8" y2="316.51" stroke="#111" stroke-width="1.1"/>
<line x1="192.6" y1="315.96" x2="192.6" y2="314.86" stroke="#666" stroke-width="0.7"/>
<line x1="190.95" y1="314.86" x2="194.25" y2="314.86" stroke="#555" stroke-width="0.9"/>
<text x="192.6" y="315.83" font-size="7.4" font-weight="bold" text-anchor="middle" fill="#000" stroke="#000" stroke-width="0.25">**</text>
<rect x="199.6" y="315.96" width="6.4" height="11.04" fill="#d38430"/>
<line x1="200.15" y1="315.96" x2="200.15" y2="327" stroke="#111" stroke-width="1.1"/>
<line x1="205.45" y1="315.96" x2="205.45" y2="327" stroke="#111" stroke-width="1.1"/>
<line x1="199.6" y1="316.51" x2="206" y2="316.51" stroke="#111" stroke-width="1.1"/>
<line x1="202.8" y1="315.96" x2="202.8" y2="314.86" stroke="#666" stroke-width="0.7"/>
<line x1="201.15" y1="314.86" x2="204.45" y2="314.86" stroke="#555" stroke-width="0.9"/>
<text x="202.8" y="315.83" font-size="7.4" font-weight="bold" text-anchor="middle" fill="#000" stroke="#000" stroke-width="0.25">**</text>
<line x1="197.7" y1="327" x2="197.7" y2="330" stroke="#111" stroke-width="1"/>
<text x="198.7" y="333.1" font-size="5.3" text-anchor="end" fill="#333" transform="rotate(-45 198.7 333.1)" stroke="#333" stroke-width="0.15">CDKN1B</text>
<rect x="216.2" y="316.88" width="6.4" height="10.12" fill="#a8bbd5"/>
<line x1="216.75" y1="316.88" x2="216.75" y2="327" stroke="#111" stroke-width="1.1"/>
<line x1="222.05" y1="316.88" x2="222.05" y2="327" stroke="#111" stroke-width="1.1"/>
<line x1="216.2" y1="317.43" x2="222.6" y2="317.43" stroke="#111" stroke-width="1.1"/>
<line x1="219.4" y1="316.88" x2="219.4" y2="315.22" stroke="#666" stroke-width="0.7"/>
<line x1="217.75" y1="315.22" x2="221.05" y2="315.22" stroke="#555" stroke-width="0.9"/>
<text x="219.4" y="316.2" font-size="7.4" font-weight="bold" text-anchor="middle" fill="#000" stroke="#000" stroke-width="0.25">*</text>
<rect x="226.4" y="309.52" width="6.4" height="17.48" fill="#d38430"/>
<line x1="226.95" y1="309.52" x2="226.95" y2="327" stroke="#111" stroke-width="1.1"/>
<line x1="232.25" y1="309.52" x2="232.25" y2="327" stroke="#111" stroke-width="1.1"/>
<line x1="226.4" y1="310.07" x2="232.8" y2="310.07" stroke="#111" stroke-width="1.1"/>
<line x1="229.6" y1="309.52" x2="229.6" y2="308.6" stroke="#666" stroke-width="0.7"/>
<line x1="227.95" y1="308.6" x2="231.25" y2="308.6" stroke="#555" stroke-width="0.9"/>
<line x1="224.5" y1="327" x2="224.5" y2="330" stroke="#111" stroke-width="1"/>
<text x="225.5" y="333.1" font-size="5.3" text-anchor="end" fill="#333" transform="rotate(-45 225.5 333.1)" stroke="#333" stroke-width="0.15">CDKN2D</text>
<rect x="243" y="320.19" width="6.4" height="6.81" fill="#a8bbd5"/>
<line x1="243.55" y1="320.19" x2="243.55" y2="327" stroke="#111" stroke-width="1.1"/>
<line x1="248.85" y1="320.19" x2="248.85" y2="327" stroke="#111" stroke-width="1.1"/>
<line x1="243" y1="320.74" x2="249.4" y2="320.74" stroke="#111" stroke-width="1.1"/>
<line x1="246.2" y1="320.19" x2="246.2" y2="316.7" stroke="#666" stroke-width="0.7"/>
<line x1="244.55" y1="316.7" x2="247.85" y2="316.7" stroke="#555" stroke-width="0.9"/>
<text x="246.2" y="317.67" font-size="7.4" font-weight="bold" text-anchor="middle" fill="#000" stroke="#000" stroke-width="0.25">*</text>
<rect x="253.2" y="299.77" width="6.4" height="27.23" fill="#d38430"/>
<line x1="253.75" y1="299.77" x2="253.75" y2="327" stroke="#111" stroke-width="1.1"/>
<line x1="259.05" y1="299.77" x2="259.05" y2="327" stroke="#111" stroke-width="1.1"/>
<line x1="253.2" y1="300.32" x2="259.6" y2="300.32" stroke="#111" stroke-width="1.1"/>
<line x1="256.4" y1="299.77" x2="256.4" y2="294.1" stroke="#666" stroke-width="0.7"/>
<line x1="256.4" y1="288.6" x2="256.4" y2="285.63" stroke="#666" stroke-width="0.7"/>
<line x1="254.75" y1="285.63" x2="258.05" y2="285.63" stroke="#555" stroke-width="0.9"/>
<line x1="251.3" y1="327" x2="251.3" y2="330" stroke="#111" stroke-width="1"/>
<text x="252.3" y="333.1" font-size="5.3" text-anchor="end" fill="#333" transform="rotate(-45 252.3 333.1)" stroke="#333" stroke-width="0.15">SSTR1</text>
<rect x="269.8" y="314.67" width="6.4" height="12.33" fill="#a8bbd5"/>
<line x1="270.35" y1="314.67" x2="270.35" y2="327" stroke="#111" stroke-width="1.1"/>
<line x1="275.65" y1="314.67" x2="275.65" y2="327" stroke="#111" stroke-width="1.1"/>
<line x1="269.8" y1="315.22" x2="276.2" y2="315.22" stroke="#111" stroke-width="1.1"/>
<line x1="273" y1="314.67" x2="273" y2="313.75" stroke="#666" stroke-width="0.7"/>
<line x1="271.35" y1="313.75" x2="274.65" y2="313.75" stroke="#555" stroke-width="0.9"/>
<text x="273" y="313.19" font-size="5.4" font-weight="bold" text-anchor="middle" fill="#000" stroke="#000" stroke-width="0.25">#</text>
<rect x="280" y="309.34" width="6.4" height="17.66" fill="#d38430"/>
<line x1="280.55" y1="309.34" x2="280.55" y2="327" stroke="#111" stroke-width="1.1"/>
<line x1="285.85" y1="309.34" x2="285.85" y2="327" stroke="#111" stroke-width="1.1"/>
<line x1="280" y1="309.89" x2="286.4" y2="309.89" stroke="#111" stroke-width="1.1"/>
<line x1="283.2" y1="309.34" x2="283.2" y2="308.6" stroke="#666" stroke-width="0.7"/>
<line x1="281.55" y1="308.6" x2="284.85" y2="308.6" stroke="#555" stroke-width="0.9"/>
<line x1="278.1" y1="327" x2="278.1" y2="330" stroke="#111" stroke-width="1"/>
<text x="279.1" y="333.1" font-size="5.3" text-anchor="end" fill="#333" transform="rotate(-45 279.1 333.1)" stroke="#333" stroke-width="0.15">SSTR2</text>
<rect x="296.6" y="317.8" width="6.4" height="9.2" fill="#a8bbd5"/>
<line x1="297.15" y1="317.8" x2="297.15" y2="327" stroke="#111" stroke-width="1.1"/>
<line x1="302.45" y1="317.8" x2="302.45" y2="327" stroke="#111" stroke-width="1.1"/>
<line x1="296.6" y1="318.35" x2="303" y2="318.35" stroke="#111" stroke-width="1.1"/>
<line x1="299.8" y1="317.8" x2="299.8" y2="315.04" stroke="#666" stroke-width="0.7"/>
<line x1="298.15" y1="315.04" x2="301.45" y2="315.04" stroke="#555" stroke-width="0.9"/>
<text x="299.8" y="314.48" font-size="5.4" font-weight="bold" text-anchor="middle" fill="#000" stroke="#000" stroke-width="0.25">#</text>
<rect x="306.8" y="319.27" width="6.4" height="7.73" fill="#d38430"/>
<line x1="307.35" y1="319.27" x2="307.35" y2="327" stroke="#111" stroke-width="1.1"/>
<line x1="312.65" y1="319.27" x2="312.65" y2="327" stroke="#111" stroke-width="1.1"/>
<line x1="306.8" y1="319.82" x2="313.2" y2="319.82" stroke="#111" stroke-width="1.1"/>
<line x1="310" y1="319.27" x2="310" y2="315.41" stroke="#666" stroke-width="0.7"/>
<line x1="308.35" y1="315.41" x2="311.65" y2="315.41" stroke="#555" stroke-width="0.9"/>
<text x="310" y="316.38" font-size="7.4" font-weight="bold" text-anchor="middle" fill="#000" stroke="#000" stroke-width="0.25">*</text>
<line x1="304.9" y1="327" x2="304.9" y2="330" stroke="#111" stroke-width="1"/>
<text x="305.9" y="333.1" font-size="5.3" text-anchor="end" fill="#333" transform="rotate(-45 305.9 333.1)" stroke="#333" stroke-width="0.15">SSTR5</text>
<line x1="55.3" y1="349.7" x2="219.4" y2="349.7" stroke="#222" stroke-width="1"/>
<line x1="236.5" y1="349.7" x2="311.5" y2="349.7" stroke="#222" stroke-width="1"/>
<text x="139" y="357" font-size="6" font-weight="bold" text-anchor="middle" fill="#111" textLength="25.5" lengthAdjust="spacingAndGlyphs" stroke="#111" stroke-width="0.2">Cell cycle</text>
<text x="273.5" y="357" font-size="6" font-weight="bold" text-anchor="middle" fill="#111" textLength="18" lengthAdjust="spacingAndGlyphs" stroke="#111" stroke-width="0.2">SSTRs</text>
<line x1="336.3" y1="270.5" x2="362.3" y2="270.5" stroke="#111" stroke-width="1.1" stroke-dasharray="2.7 2.05"/>
<text x="362.6" y="273" font-size="7.3" text-anchor="start" fill="#1a1a1a" textLength="30.6" lengthAdjust="spacingAndGlyphs" stroke="#1a1a1a" stroke-width="0.18">Scramble</text>
<rect x="333.7" y="298.9" width="14.4" height="7.2" fill="url(#lgb)" stroke="#1a2a44" stroke-width="1.3"/>
<text x="350.3" y="305" font-size="7.3" text-anchor="start" fill="#1a1a1a" textLength="71.2" lengthAdjust="spacingAndGlyphs" stroke="#1a1a1a" stroke-width="0.18">CORT-silenced 22Rv1</text>
<rect x="333.7" y="330.7" width="14.8" height="7.2" fill="url(#lgo)" stroke="#3a2410" stroke-width="1.3"/>
<text x="351.8" y="337" font-size="7.3" text-anchor="start" fill="#1a1a1a" textLength="67.7" lengthAdjust="spacingAndGlyphs" stroke="#1a1a1a" stroke-width="0.18">CORT-silenced PC-3</text>
<text x="5.8" y="401.4" font-size="9" font-weight="bold" text-anchor="start" fill="#111" stroke="#111" stroke-width="0.15">(E)</text>
<line x1="77.1" y1="408.3" x2="114.2" y2="408.3" stroke="#c8c8c8" stroke-width="0.9"/>
<line x1="145.5" y1="408.3" x2="178.4" y2="408.3" stroke="#c8c8c8" stroke-width="0.9"/>
<text x="128.8" y="412.5" font-size="9.9" text-anchor="middle" fill="#1a1a1a" textLength="23.6" lengthAdjust="spacingAndGlyphs" stroke="#1a1a1a" stroke-width="0.1">22Rv1</text>
<line x1="282.1" y1="406" x2="321.5" y2="406" stroke="#dddddd" stroke-width="0.9"/>
<line x1="346" y1="406" x2="385.9" y2="406" stroke="#dddddd" stroke-width="0.9"/>
<text x="333.8" y="409.1" font-size="9.9" text-anchor="middle" fill="#1a1a1a" textLength="20.6" lengthAdjust="spacingAndGlyphs" stroke="#1a1a1a" stroke-width="0.1">PC-3</text>
<line x1="41.4" y1="436.4" x2="41.4" y2="510.9" stroke="#333" stroke-width="1"/>
<line x1="39.1" y1="436.9" x2="41.4" y2="436.9" stroke="#333" stroke-width="1"/>
<text x="38.5" y="438.88" font-size="5.2" font-weight="bold" text-anchor="end" fill="#1a1a1a" stroke="#1a1a1a" stroke-width="0.3">150</text>
<line x1="39.1" y1="461.4" x2="41.4" y2="461.4" stroke="#333" stroke-width="1"/>
<text x="38.5" y="463.38" font-size="5.2" font-weight="bold" text-anchor="end" fill="#1a1a1a" stroke="#1a1a1a" stroke-width="0.3">100</text>
<line x1="39.1" y1="485.9" x2="41.4" y2="485.9" stroke="#333" stroke-width="1"/>
<text x="38.5" y="487.88" font-size="5.2" font-weight="bold" text-anchor="end" fill="#1a1a1a" stroke="#1a1a1a" stroke-width="0.3">50</text>
<line x1="39.1" y1="510.4" x2="41.4" y2="510.4" stroke="#333" stroke-width="1"/>
<text x="38.5" y="512.38" font-size="5.2" font-weight="bold" text-anchor="end" fill="#1a1a1a" stroke="#1a1a1a" stroke-width="0.3">0</text>
<line x1="41.9" y1="461.4" x2="115.9" y2="461.4" stroke="#888" stroke-width="0.9" stroke-dasharray="1 1.4"/>
<line x1="41.4" y1="510.4" x2="115.9" y2="510.4" stroke="#333" stroke-width="1"/>
<rect x="45.75" y="465.75" width="4.9" height="44.65" fill="#cfe1f6" stroke="#111" stroke-width="1.3"/>
<line x1="48.2" y1="465.1" x2="48.2" y2="459.8" stroke="#222" stroke-width="0.9"/>
<line x1="46.4" y1="459.8" x2="50" y2="459.8" stroke="#222" stroke-width="0.9"/>
<rect x="55.25" y="469.05" width="5.1" height="41.35" fill="url(#heb)" stroke="#111" stroke-width="1.3"/>
<line x1="57.8" y1="468.4" x2="57.8" y2="465.6" stroke="#222" stroke-width="0.9"/>
<line x1="56" y1="465.6" x2="59.6" y2="465.6" stroke="#222" stroke-width="0.9"/>
<rect x="71.45" y="472.85" width="4.9" height="37.55" fill="#cfe1f6" stroke="#111" stroke-width="1.3"/>
<line x1="73.9" y1="472.2" x2="73.9" y2="468" stroke="#222" stroke-width="0.9"/>
<line x1="72.1" y1="468" x2="75.7" y2="468" stroke="#222" stroke-width="0.9"/>
<rect x="80.85" y="463.95" width="5.4" height="46.45" fill="url(#heb)" stroke="#111" stroke-width="1.3"/>
<line x1="83.55" y1="463.3" x2="83.55" y2="457.2" stroke="#222" stroke-width="0.9"/>
<line x1="81.75" y1="457.2" x2="85.35" y2="457.2" stroke="#222" stroke-width="0.9"/>
<rect x="96.75" y="474.15" width="5.1" height="36.25" fill="#cfe1f6" stroke="#111" stroke-width="1.3"/>
<line x1="99.3" y1="473.5" x2="99.3" y2="471.5" stroke="#222" stroke-width="0.9"/>
<line x1="97.5" y1="471.5" x2="101.1" y2="471.5" stroke="#222" stroke-width="0.9"/>
<rect x="106.75" y="462.15" width="4.8" height="48.25" fill="url(#heb)" stroke="#111" stroke-width="1.3"/>
<line x1="109.15" y1="461.5" x2="109.15" y2="458.4" stroke="#222" stroke-width="0.9"/>
<line x1="107.35" y1="458.4" x2="110.95" y2="458.4" stroke="#222" stroke-width="0.9"/>
<line x1="53.2" y1="510.4" x2="53.2" y2="512.4" stroke="#333" stroke-width="1"/>
<text x="53.2" y="519" font-size="5.5" font-weight="bold" text-anchor="middle" fill="#111" stroke="#111" stroke-width="0.25">24 h</text>
<line x1="78.8" y1="510.4" x2="78.8" y2="512.4" stroke="#333" stroke-width="1"/>
<text x="78.8" y="519" font-size="5.5" font-weight="bold" text-anchor="middle" fill="#111" stroke="#111" stroke-width="0.25">48 h</text>
<line x1="104.4" y1="510.4" x2="104.4" y2="512.4" stroke="#333" stroke-width="1"/>
<text x="104.4" y="519" font-size="5.5" font-weight="bold" text-anchor="middle" fill="#111" stroke="#111" stroke-width="0.25">72 h</text>
<text x="99.3" y="471.97" font-size="6.6" font-weight="bold" text-anchor="middle" fill="#1a1a1a" stroke="#1a1a1a" stroke-width="0.15">*</text>
<text x="78.7" y="427.2" font-size="7.2" font-weight="bold" text-anchor="middle" fill="#111" stroke="#111" stroke-width="0.15">Octreotide</text>
<line x1="140.4" y1="436.4" x2="140.4" y2="510.9" stroke="#333" stroke-width="1"/>
<line x1="138.1" y1="436.9" x2="140.4" y2="436.9" stroke="#333" stroke-width="1"/>
<text x="137.5" y="438.88" font-size="5.2" font-weight="bold" text-anchor="end" fill="#1a1a1a" stroke="#1a1a1a" stroke-width="0.3">150</text>
<line x1="138.1" y1="461.4" x2="140.4" y2="461.4" stroke="#333" stroke-width="1"/>
<text x="137.5" y="463.38" font-size="5.2" font-weight="bold" text-anchor="end" fill="#1a1a1a" stroke="#1a1a1a" stroke-width="0.3">100</text>
<line x1="138.1" y1="485.9" x2="140.4" y2="485.9" stroke="#333" stroke-width="1"/>
<text x="137.5" y="487.88" font-size="5.2" font-weight="bold" text-anchor="end" fill="#1a1a1a" stroke="#1a1a1a" stroke-width="0.3">50</text>
<line x1="138.1" y1="510.4" x2="140.4" y2="510.4" stroke="#333" stroke-width="1"/>
<text x="137.5" y="512.38" font-size="5.2" font-weight="bold" text-anchor="end" fill="#1a1a1a" stroke="#1a1a1a" stroke-width="0.3">0</text>
<line x1="140.9" y1="461.4" x2="215.5" y2="461.4" stroke="#888" stroke-width="0.9" stroke-dasharray="1 1.4"/>
<line x1="140.4" y1="510.4" x2="215.5" y2="510.4" stroke="#333" stroke-width="1"/>
<rect x="144.55" y="467.55" width="4.5" height="42.85" fill="#cfe1f6" stroke="#111" stroke-width="1.3"/>
<line x1="146.8" y1="466.9" x2="146.8" y2="462.3" stroke="#222" stroke-width="0.9"/>
<line x1="145" y1="462.3" x2="148.6" y2="462.3" stroke="#222" stroke-width="0.9"/>
<rect x="153.95" y="469.15" width="5.1" height="41.25" fill="url(#heb)" stroke="#111" stroke-width="1.3"/>
<line x1="156.5" y1="468.5" x2="156.5" y2="465.5" stroke="#222" stroke-width="0.9"/>
<line x1="154.7" y1="465.5" x2="158.3" y2="465.5" stroke="#222" stroke-width="0.9"/>
<rect x="169.85" y="477.45" width="5.1" height="32.95" fill="#cfe1f6" stroke="#111" stroke-width="1.3"/>
<line x1="172.4" y1="476.8" x2="172.4" y2="474" stroke="#222" stroke-width="0.9"/>
<line x1="170.6" y1="474" x2="174.2" y2="474" stroke="#222" stroke-width="0.9"/>
<rect x="179.75" y="466.55" width="5.2" height="43.85" fill="url(#heb)" stroke="#111" stroke-width="1.3"/>
<line x1="182.35" y1="465.9" x2="182.35" y2="462.4" stroke="#222" stroke-width="0.9"/>
<line x1="180.55" y1="462.4" x2="184.15" y2="462.4" stroke="#222" stroke-width="0.9"/>
<rect x="195.75" y="477.45" width="5.1" height="32.95" fill="#cfe1f6" stroke="#111" stroke-width="1.3"/>
<line x1="198.3" y1="476.8" x2="198.3" y2="475.3" stroke="#222" stroke-width="0.9"/>
<line x1="196.5" y1="475.3" x2="200.1" y2="475.3" stroke="#222" stroke-width="0.9"/>
<rect x="205.75" y="468.25" width="4.9" height="42.15" fill="url(#heb)" stroke="#111" stroke-width="1.3"/>
<line x1="208.2" y1="467.6" x2="208.2" y2="464.3" stroke="#222" stroke-width="0.9"/>
<line x1="206.4" y1="464.3" x2="210" y2="464.3" stroke="#222" stroke-width="0.9"/>
<line x1="151.8" y1="510.4" x2="151.8" y2="512.4" stroke="#333" stroke-width="1"/>
<text x="151.8" y="519" font-size="5.5" font-weight="bold" text-anchor="middle" fill="#111" stroke="#111" stroke-width="0.25">24 h</text>
<line x1="177.7" y1="510.4" x2="177.7" y2="512.4" stroke="#333" stroke-width="1"/>
<text x="177.7" y="519" font-size="5.5" font-weight="bold" text-anchor="middle" fill="#111" stroke="#111" stroke-width="0.25">48 h</text>
<line x1="203.5" y1="510.4" x2="203.5" y2="512.4" stroke="#333" stroke-width="1"/>
<text x="203.5" y="519" font-size="5.5" font-weight="bold" text-anchor="middle" fill="#111" stroke="#111" stroke-width="0.25">72 h</text>
<text x="172.4" y="473.77" font-size="6.6" font-weight="bold" text-anchor="middle" fill="#1a1a1a" stroke="#1a1a1a" stroke-width="0.15">*</text>
<text x="198.3" y="476.37" font-size="6.6" font-weight="bold" text-anchor="middle" fill="#1a1a1a" stroke="#1a1a1a" stroke-width="0.15">**</text>
<text x="177.5" y="427.2" font-size="7.2" font-weight="bold" text-anchor="middle" fill="#111" stroke="#111" stroke-width="0.15">Pasireotide</text>
<line x1="244.2" y1="436.4" x2="244.2" y2="510.9" stroke="#333" stroke-width="1"/>
<line x1="241.9" y1="436.9" x2="244.2" y2="436.9" stroke="#333" stroke-width="1"/>
<text x="241.3" y="438.88" font-size="5.2" font-weight="bold" text-anchor="end" fill="#1a1a1a" stroke="#1a1a1a" stroke-width="0.3">150</text>
<line x1="241.9" y1="461.4" x2="244.2" y2="461.4" stroke="#333" stroke-width="1"/>
<text x="241.3" y="463.38" font-size="5.2" font-weight="bold" text-anchor="end" fill="#1a1a1a" stroke="#1a1a1a" stroke-width="0.3">100</text>
<line x1="241.9" y1="485.9" x2="244.2" y2="485.9" stroke="#333" stroke-width="1"/>
<text x="241.3" y="487.88" font-size="5.2" font-weight="bold" text-anchor="end" fill="#1a1a1a" stroke="#1a1a1a" stroke-width="0.3">50</text>
<line x1="241.9" y1="510.4" x2="244.2" y2="510.4" stroke="#333" stroke-width="1"/>
<text x="241.3" y="512.38" font-size="5.2" font-weight="bold" text-anchor="end" fill="#1a1a1a" stroke="#1a1a1a" stroke-width="0.3">0</text>
<line x1="244.7" y1="461.4" x2="318.8" y2="461.4" stroke="#888" stroke-width="0.9" stroke-dasharray="1 1.4"/>
<line x1="244.2" y1="510.4" x2="318.8" y2="510.4" stroke="#333" stroke-width="1"/>
<rect x="247.95" y="462.25" width="4.8" height="48.15" fill="#f7a33a" stroke="#111" stroke-width="1.3"/>
<line x1="250.35" y1="461.6" x2="250.35" y2="456.7" stroke="#222" stroke-width="0.9"/>
<line x1="248.55" y1="456.7" x2="252.15" y2="456.7" stroke="#222" stroke-width="0.9"/>
<rect x="257.65" y="464.55" width="4.9" height="45.85" fill="url(#heo)" stroke="#111" stroke-width="1.3"/>
<line x1="260.1" y1="463.9" x2="260.1" y2="461" stroke="#222" stroke-width="0.9"/>
<line x1="258.3" y1="461" x2="261.9" y2="461" stroke="#222" stroke-width="0.9"/>
<rect x="274.15" y="468.05" width="4" height="42.35" fill="#f7a33a" stroke="#111" stroke-width="1.3"/>
<line x1="276.15" y1="467.4" x2="276.15" y2="462" stroke="#222" stroke-width="0.9"/>
<line x1="274.35" y1="462" x2="277.95" y2="462" stroke="#222" stroke-width="0.9"/>
<rect x="283.35" y="463.55" width="4.7" height="46.85" fill="url(#heo)" stroke="#111" stroke-width="1.3"/>
<line x1="285.7" y1="462.9" x2="285.7" y2="461" stroke="#222" stroke-width="0.9"/>
<line x1="283.9" y1="461" x2="287.5" y2="461" stroke="#222" stroke-width="0.9"/>
<rect x="299.85" y="468.05" width="4.1" height="42.35" fill="#f7a33a" stroke="#111" stroke-width="1.3"/>
<line x1="301.9" y1="467.4" x2="301.9" y2="462" stroke="#222" stroke-width="0.9"/>
<line x1="300.1" y1="462" x2="303.7" y2="462" stroke="#222" stroke-width="0.9"/>
<rect x="309.25" y="461.85" width="4.7" height="48.55" fill="url(#heo)" stroke="#111" stroke-width="1.3"/>
<line x1="311.6" y1="461.2" x2="311.6" y2="459" stroke="#222" stroke-width="0.9"/>
<line x1="309.8" y1="459" x2="313.4" y2="459" stroke="#222" stroke-width="0.9"/>
<line x1="255.5" y1="510.4" x2="255.5" y2="512.4" stroke="#333" stroke-width="1"/>
<text x="255.5" y="519" font-size="5.5" font-weight="bold" text-anchor="middle" fill="#111" stroke="#111" stroke-width="0.25">24 h</text>
<line x1="281" y1="510.4" x2="281" y2="512.4" stroke="#333" stroke-width="1"/>
<text x="281" y="519" font-size="5.5" font-weight="bold" text-anchor="middle" fill="#111" stroke="#111" stroke-width="0.25">48 h</text>
<line x1="306.9" y1="510.4" x2="306.9" y2="512.4" stroke="#333" stroke-width="1"/>
<text x="306.9" y="519" font-size="5.5" font-weight="bold" text-anchor="middle" fill="#111" stroke="#111" stroke-width="0.25">72 h</text>
<text x="281.1" y="427.2" font-size="7.2" font-weight="bold" text-anchor="middle" fill="#111" stroke="#111" stroke-width="0.15">Octreotide</text>
<line x1="342.7" y1="436.4" x2="342.7" y2="510.9" stroke="#333" stroke-width="1"/>
<line x1="340.4" y1="436.9" x2="342.7" y2="436.9" stroke="#333" stroke-width="1"/>
<text x="339.8" y="438.88" font-size="5.2" font-weight="bold" text-anchor="end" fill="#1a1a1a" stroke="#1a1a1a" stroke-width="0.3">150</text>
<line x1="340.4" y1="461.4" x2="342.7" y2="461.4" stroke="#333" stroke-width="1"/>
<text x="339.8" y="463.38" font-size="5.2" font-weight="bold" text-anchor="end" fill="#1a1a1a" stroke="#1a1a1a" stroke-width="0.3">100</text>
<line x1="340.4" y1="485.9" x2="342.7" y2="485.9" stroke="#333" stroke-width="1"/>
<text x="339.8" y="487.88" font-size="5.2" font-weight="bold" text-anchor="end" fill="#1a1a1a" stroke="#1a1a1a" stroke-width="0.3">50</text>
<line x1="340.4" y1="510.4" x2="342.7" y2="510.4" stroke="#333" stroke-width="1"/>
<text x="339.8" y="512.38" font-size="5.2" font-weight="bold" text-anchor="end" fill="#1a1a1a" stroke="#1a1a1a" stroke-width="0.3">0</text>
<line x1="343.2" y1="461.4" x2="416.5" y2="461.4" stroke="#888" stroke-width="0.9" stroke-dasharray="1 1.4"/>
<line x1="342.7" y1="510.4" x2="416.5" y2="510.4" stroke="#333" stroke-width="1"/>
<rect x="346.85" y="463.55" width="4.5" height="46.85" fill="#f7a33a" stroke="#111" stroke-width="1.3"/>
<line x1="349.1" y1="462.9" x2="349.1" y2="460" stroke="#222" stroke-width="0.9"/>
<line x1="347.3" y1="460" x2="350.9" y2="460" stroke="#222" stroke-width="0.9"/>
<rect x="356.15" y="470.25" width="5.2" height="40.15" fill="url(#heo)" stroke="#111" stroke-width="1.3"/>
<line x1="358.75" y1="469.6" x2="358.75" y2="467.4" stroke="#222" stroke-width="0.9"/>
<line x1="356.95" y1="467.4" x2="360.55" y2="467.4" stroke="#222" stroke-width="0.9"/>
<rect x="372.35" y="468.85" width="4.9" height="41.55" fill="#f7a33a" stroke="#111" stroke-width="1.3"/>
<line x1="374.8" y1="468.2" x2="374.8" y2="466" stroke="#222" stroke-width="0.9"/>
<line x1="373" y1="466" x2="376.6" y2="466" stroke="#222" stroke-width="0.9"/>
<rect x="381.65" y="467.65" width="5.2" height="42.75" fill="url(#heo)" stroke="#111" stroke-width="1.3"/>
<line x1="384.25" y1="467" x2="384.25" y2="464" stroke="#222" stroke-width="0.9"/>
<line x1="382.45" y1="464" x2="386.05" y2="464" stroke="#222" stroke-width="0.9"/>
<rect x="397.85" y="470.75" width="4.9" height="39.65" fill="#f7a33a" stroke="#111" stroke-width="1.3"/>
<line x1="400.3" y1="470.1" x2="400.3" y2="468.6" stroke="#222" stroke-width="0.9"/>
<line x1="398.5" y1="468.6" x2="402.1" y2="468.6" stroke="#222" stroke-width="0.9"/>
<rect x="407.55" y="469.75" width="4.8" height="40.65" fill="url(#heo)" stroke="#111" stroke-width="1.3"/>
<line x1="409.95" y1="469.1" x2="409.95" y2="466.4" stroke="#222" stroke-width="0.9"/>
<line x1="408.15" y1="466.4" x2="411.75" y2="466.4" stroke="#222" stroke-width="0.9"/>
<line x1="353.8" y1="510.4" x2="353.8" y2="512.4" stroke="#333" stroke-width="1"/>
<text x="353.8" y="519" font-size="5.5" font-weight="bold" text-anchor="middle" fill="#111" stroke="#111" stroke-width="0.25">24 h</text>
<line x1="379.5" y1="510.4" x2="379.5" y2="512.4" stroke="#333" stroke-width="1"/>
<text x="379.5" y="519" font-size="5.5" font-weight="bold" text-anchor="middle" fill="#111" stroke="#111" stroke-width="0.25">48 h</text>
<line x1="405" y1="510.4" x2="405" y2="512.4" stroke="#333" stroke-width="1"/>
<text x="405" y="519" font-size="5.5" font-weight="bold" text-anchor="middle" fill="#111" stroke="#111" stroke-width="0.25">72 h</text>
<text x="400.3" y="469.07" font-size="6.6" font-weight="bold" text-anchor="middle" fill="#1a1a1a" stroke="#1a1a1a" stroke-width="0.15">*</text>
<text x="379.7" y="427.2" font-size="7.2" font-weight="bold" text-anchor="middle" fill="#111" stroke="#111" stroke-width="0.15">Pasireotide</text>
<text x="17.2" y="472.4" font-size="6.9" font-weight="bold" text-anchor="middle" fill="#111" transform="rotate(-90 17.2 472.4)" textLength="56" lengthAdjust="spacingAndGlyphs" stroke="#111" stroke-width="0.3">Proliferation rate</text>
<text x="25" y="473.2" font-size="6.9" font-weight="bold" text-anchor="middle" fill="#111" transform="rotate(-90 25 473.2)" textLength="68.6" lengthAdjust="spacingAndGlyphs" stroke="#111" stroke-width="0.3">(control set at 100%)</text>
<line x1="57" y1="541.7" x2="80" y2="541.7" stroke="#333" stroke-width="1.4" stroke-dasharray="1.4 4.1"/>
<text x="86" y="544.4" font-size="7.3" text-anchor="start" fill="#1a1a1a" textLength="22" lengthAdjust="spacingAndGlyphs" stroke="#1a1a1a" stroke-width="0.12">Control</text>
<rect x="130.9" y="538.2" width="14.8" height="7.2" fill="#cfe1f6" stroke="#151515" stroke-width="1.5"/>
<rect x="148.4" y="538.2" width="14.8" height="7.2" fill="#f7a33a" stroke="#151515" stroke-width="1.5"/>
<text x="166" y="544.4" font-size="7.3" text-anchor="start" fill="#1a1a1a" textLength="55.5" lengthAdjust="spacingAndGlyphs" stroke="#1a1a1a" stroke-width="0.12">Scramble treated</text>
<rect x="260.5" y="538.2" width="14.8" height="7.2" fill="url(#lgb)" stroke="#151515" stroke-width="1.5"/>
<rect x="278.4" y="538.2" width="14.8" height="7.2" fill="url(#lgo)" stroke="#151515" stroke-width="1.5"/>
<text x="296.8" y="544.4" font-size="7.3" text-anchor="start" fill="#1a1a1a" textLength="74.2" lengthAdjust="spacingAndGlyphs" stroke="#1a1a1a" stroke-width="0.12">CORT-silenced treated</text>
</svg></body></html>
